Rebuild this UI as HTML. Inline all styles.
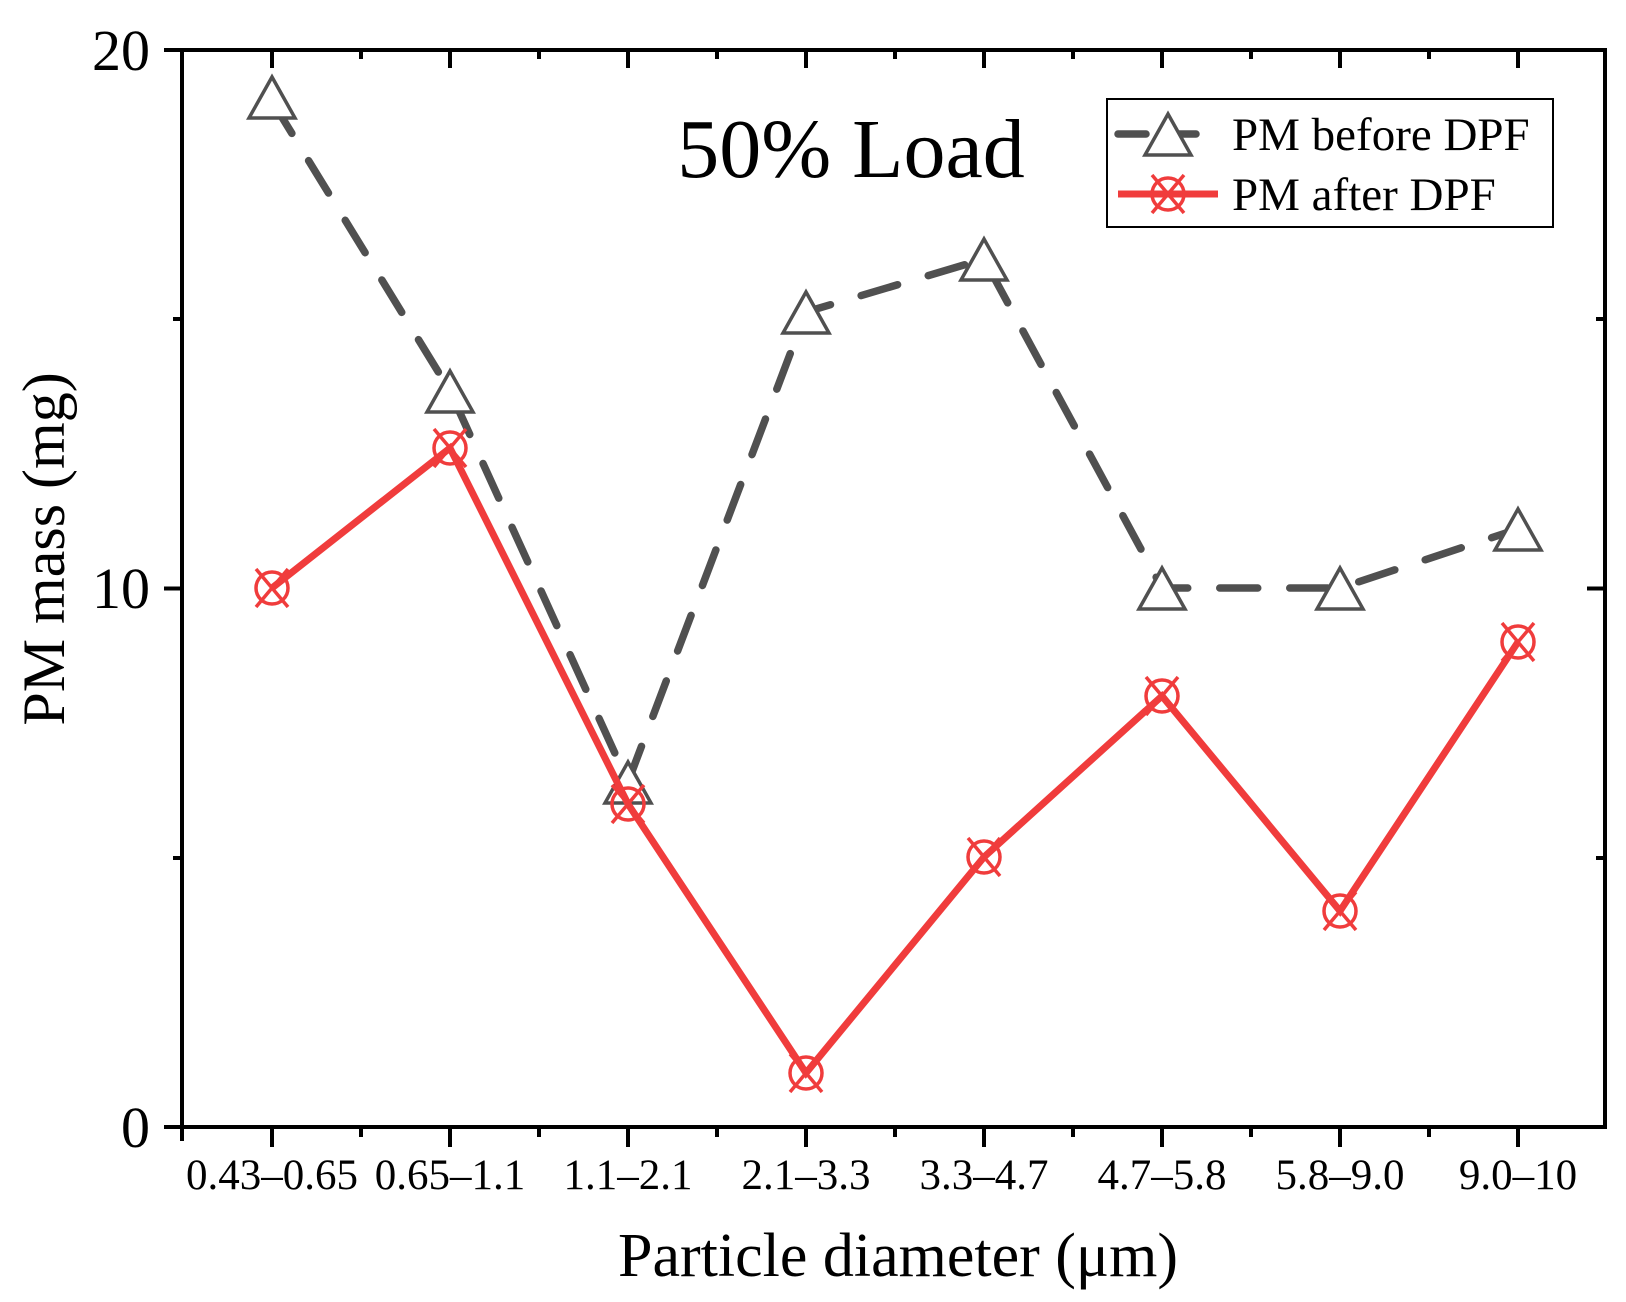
<!DOCTYPE html>
<html><head><meta charset="utf-8"><style>
html,body{margin:0;padding:0;background:#fff;}
svg{display:block;font-family:"Liberation Serif",serif;}
</style></head><body>
<svg width="1626" height="1302" viewBox="0 0 1626 1302" xmlns="http://www.w3.org/2000/svg">
<defs>
<g id="m"><circle cx="0" cy="0" r="16"/><path d="M-16,-19L16,19M16,-19L-16,19"/></g>
</defs>
<g stroke="#000" stroke-width="4" fill="none">
<rect x="182" y="50" width="1423" height="1077"/>
<path d="M272 1127v20M450 1127v20M628 1127v20M806 1127v20M984 1127v20M1162 1127v20M1340 1127v20M1518 1127v20"/>
<path d="M182 1127v14M361 1127v10M539 1127v10M717 1127v10M895 1127v10M1073 1127v10M1251 1127v10M1429 1127v10"/>
<path d="M272 50v18M450 50v18M628 50v18M806 50v18M984 50v18M1162 50v18M1340 50v18M1518 50v18"/>
<path d="M361 50v9M539 50v9M717 50v9M895 50v9M1073 50v9M1251 50v9M1429 50v9"/>
<path d="M182 50h-18M182 588.5h-18M182 1127h-18M182 319h-9M182 858h-9"/>
<path d="M1605 50h-18M1605 588.5h-18M1605 319h-9M1605 858h-9"/>
</g>
<g font-size="58" fill="#000">
<text x="150" y="70" text-anchor="end">20</text>
<text x="150" y="608" text-anchor="end">10</text>
<text x="150" y="1147" text-anchor="end">0</text>
</g>
<g font-size="43" fill="#000" text-anchor="middle">
<text x="272" y="1189">0.43–0.65</text>
<text x="450" y="1189">0.65–1.1</text>
<text x="628" y="1189">1.1–2.1</text>
<text x="806" y="1189">2.1–3.3</text>
<text x="984" y="1189">3.3–4.7</text>
<text x="1162" y="1189">4.7–5.8</text>
<text x="1340" y="1189">5.8–9.0</text>
<text x="1518" y="1189">9.0–10</text>
</g>
<text x="898" y="1276" font-size="62" text-anchor="middle">Particle diameter (μm)</text>
<text transform="translate(64,549) rotate(-90)" font-size="60" text-anchor="middle">PM mass (mg)</text>
<text x="851" y="177" font-size="84" text-anchor="middle">50% Load</text>
<polyline fill="none" stroke="#505050" stroke-width="7.5" stroke-dasharray="38 32" stroke-linecap="round"
points="272,101 450,391 628,782 806,312 984,259 1162,588 1340,588 1518,529"/>
<g fill="#fff" stroke="#505050" stroke-width="3.5">
<path d="M272,77 l-23,41 h46z"/><path d="M450,371 l-23,41 h46z"/><path d="M628,762 l-23,41 h46z"/>
<path d="M806,292 l-23,41 h46z"/><path d="M984,239 l-23,41 h46z"/><path d="M1162,568 l-23,41 h46z"/>
<path d="M1340,568 l-23,41 h46z"/><path d="M1518,509 l-23,41 h46z"/>
</g>
<polyline fill="none" stroke="#f03c3c" stroke-width="7"
points="272,588 450,448 628,804 806,1073 984,857 1162,696 1340,911 1518,642"/>
<g fill="none" stroke="#f03c3c" stroke-width="3.5">
<use href="#m" x="272" y="588"/><use href="#m" x="450" y="448"/><use href="#m" x="628" y="804"/>
<use href="#m" x="806" y="1073"/><use href="#m" x="984" y="857"/><use href="#m" x="1162" y="696"/>
<use href="#m" x="1340" y="911"/><use href="#m" x="1518" y="642"/>
</g>
<rect x="1107" y="99" width="446" height="128" fill="#fff" stroke="#000" stroke-width="2"/>
<line x1="1118" y1="134" x2="1218" y2="134" stroke="#505050" stroke-width="7.5" stroke-dasharray="28 22" stroke-linecap="round"/>
<path d="M1168,114 l-23,41 h46z" fill="#fff" stroke="#505050" stroke-width="3.5"/>
<text x="1232" y="150" font-size="47">PM before DPF</text>
<line x1="1118" y1="194" x2="1218" y2="194" stroke="#f03c3c" stroke-width="7"/>
<g fill="none" stroke="#f03c3c" stroke-width="3.5"><use href="#m" x="1168" y="194"/></g>
<text x="1232" y="210" font-size="47">PM after DPF</text>
</svg>
</body></html>
